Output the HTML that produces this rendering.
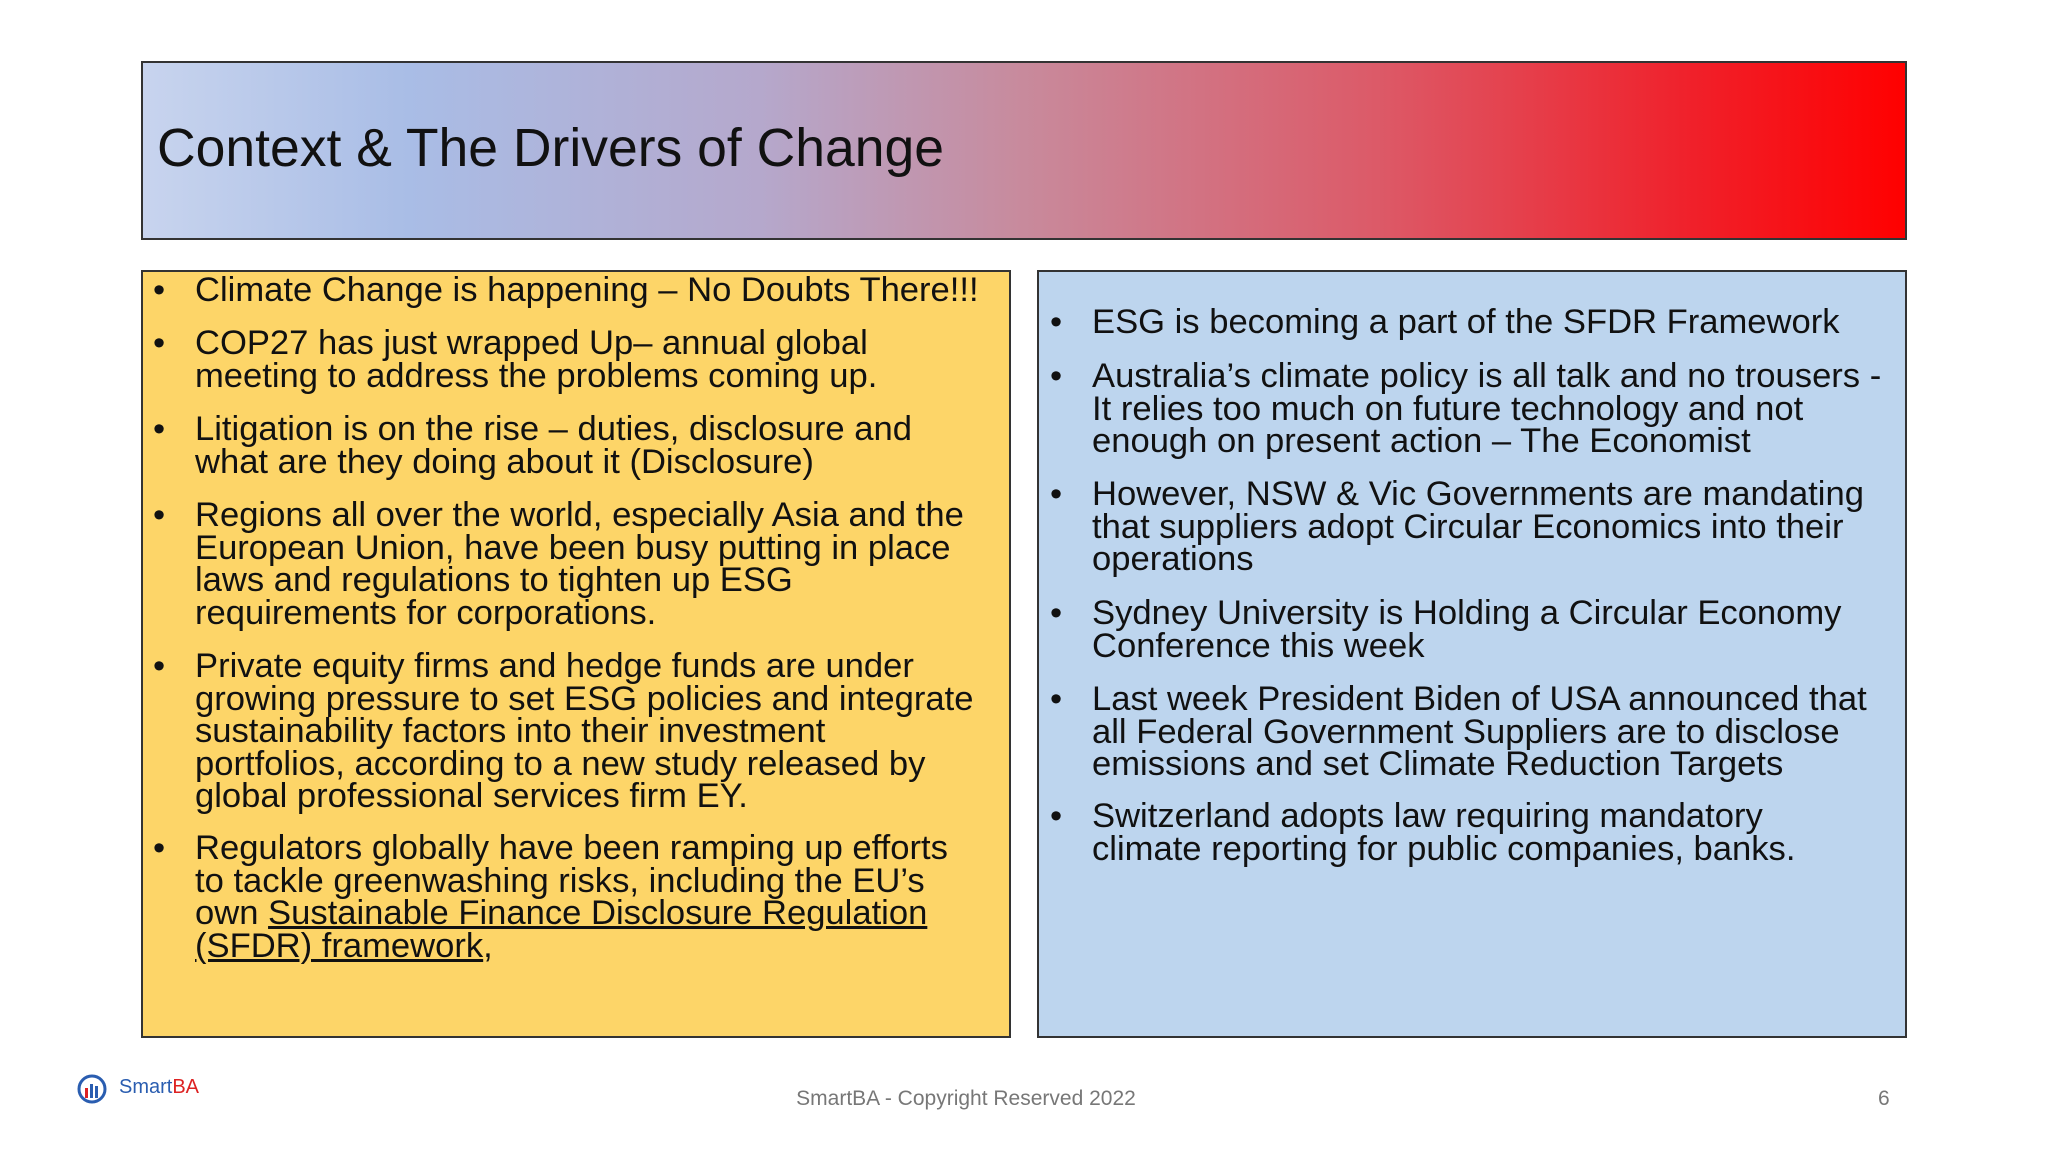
<!DOCTYPE html>
<html><head><meta charset="utf-8"><style>
html,body{margin:0;padding:0}
body{width:2048px;height:1152px;background:#fff;position:relative;overflow:hidden;font-family:"Liberation Sans",sans-serif;color:#111}
.box{position:absolute;box-sizing:border-box;border:2px solid #333}
.it{position:absolute;font-size:34.6px;line-height:32.6px;white-space:nowrap}
.it:before{content:"•";position:absolute;left:-42px;top:0}
u{text-decoration:underline}
</style></head><body>
<div class="box" style="left:141px;top:61px;width:1766px;height:179px;background:linear-gradient(90deg,#c8d4ee 0%,#a9bde6 15%,#b5a8cc 35%,#c88a9c 50%,#dc5a68 70%,#f0202a 88%,#ff0000 100%)">
<div style="position:absolute;left:14px;top:56px;font-size:53.5px;line-height:60px;color:#111;white-space:nowrap">Context &amp; The Drivers of Change</div>
</div>
<div class="box" style="left:141px;top:270px;width:870px;height:768px;background:#fdd568"></div>
<div class="box" style="left:1037px;top:270px;width:870px;height:768px;background:#bdd5ee"></div>

<div class="it" style="left:195px;top:274px">Climate Change is happening – No Doubts There!!!</div>
<div class="it" style="left:195px;top:327px">COP27 has just wrapped Up– annual global<br>meeting to address the problems coming up.</div>
<div class="it" style="left:195px;top:413px">Litigation is on the rise – duties, disclosure and<br>what are they doing about it (Disclosure)</div>
<div class="it" style="left:195px;top:499px">Regions all over the world, especially Asia and the<br>European Union, have been busy putting in place<br>laws and regulations to tighten up ESG<br>requirements for corporations.</div>
<div class="it" style="left:195px;top:650px">Private equity firms and hedge funds are under<br>growing pressure to set ESG policies and integrate<br>sustainability factors into their investment<br>portfolios, according to a new study released by<br>global professional services firm EY.</div>
<div class="it" style="left:195px;top:832px">Regulators globally have been ramping up efforts<br>to tackle greenwashing risks, including the EU’s<br>own <u>Sustainable Finance Disclosure Regulation<br>(SFDR) framework</u>,</div>

<div class="it" style="left:1092px;top:306px">ESG is becoming a part of the SFDR Framework</div>
<div class="it" style="left:1092px;top:360px">Australia’s climate policy is all talk and no trousers -<br>It relies too much on future technology and not<br>enough on present action – The Economist</div>
<div class="it" style="left:1092px;top:478px">However, NSW &amp; Vic Governments are mandating<br>that suppliers adopt Circular Economics into their<br>operations</div>
<div class="it" style="left:1092px;top:597px">Sydney University is Holding a Circular Economy<br>Conference this week</div>
<div class="it" style="left:1092px;top:683px">Last week President Biden  of USA announced that<br>all Federal Government Suppliers are to disclose<br>emissions and set Climate Reduction Targets</div>
<div class="it" style="left:1092px;top:800px">Switzerland adopts law requiring mandatory<br>climate reporting for public companies, banks.</div>

<div style="position:absolute;left:75px;top:1072px;width:150px;height:40px">
<svg width="40" height="34" viewBox="0 0 40 34"><circle cx="17" cy="17" r="13" fill="none" stroke="#2a5db0" stroke-width="3"/><rect x="10" y="16" width="3" height="10" fill="#d22"/><rect x="15" y="12" width="3" height="14" fill="#2a5db0"/><rect x="20" y="14" width="3" height="12" fill="#2a5db0"/></svg>
<span style="position:absolute;left:44px;top:4px;font-size:20px;color:#2a5db0">Smart<span style="color:#d22">BA</span></span>
</div>
<div style="position:absolute;left:0;width:1932px;text-align:center;top:1087px;font-size:21px;color:#777">SmartBA - Copyright Reserved 2022</div>
<div style="position:absolute;left:1878px;top:1087px;font-size:21px;color:#777">6</div>
</body></html>
